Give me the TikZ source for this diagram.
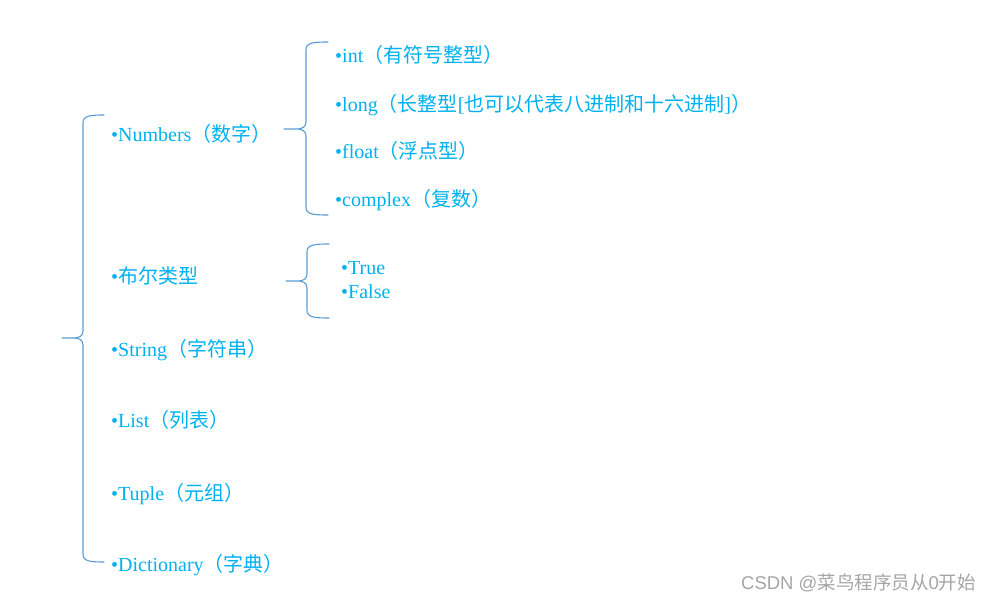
\documentclass[tikz,border=0pt]{standalone}
\usepackage{fontspec}
\setmainfont{Liberation Serif}
\newfontfamily\cjk{Noto Sans CJK SC}
\newfontfamily\marksans{Liberation Sans}
\definecolor{itemblue}{RGB}{0,176,240}
\definecolor{braceblue}{RGB}{91,155,213}
\definecolor{markgray}{RGB}{165,165,165}
% #1 x of the stem, #2 top, #3 tip y, #4 bottom, #5 tip x, #6 tail x
\newcommand{\leftbrace}[6]{%
  \draw[braceline] (#6,#2) .. controls (#1+6,#2) and (#1,#2+1) .. (#1,#2+8)
    -- (#1,#3-7) .. controls (#1,#3-2) and (#1-4,#3) .. (#1-9,#3) -- (#5,#3)
    -- (#1-9,#3) .. controls (#1-4,#3) and (#1,#3+2) .. (#1,#3+7)
    -- (#1,#4-8) .. controls (#1,#4-1) and (#1+6,#4) .. (#6,#4);}
\begin{document}
\begin{tikzpicture}[x=1pt, y=-1pt, line join=round, line cap=round,
  item/.style={anchor=base west, inner sep=0pt, text=itemblue, font=\fontsize{20}{24}\selectfont},
  braceline/.style={draw=braceblue, line width=1.1pt}]
\useasboundingbox (0,0) rectangle (991,602);
% main list
\node[item] (numbers) at (111,141) {•Numbers{\cjk （数字）}};
\node[item] (bool)    at (111,283) {•{\cjk 布尔类型}};
\node[item] (string)  at (111,356) {•String{\cjk （字符串）}};
\node[item] (list)    at (111,427) {•List{\cjk （列表）}};
\node[item] (tuple)   at (111,500) {•Tuple{\cjk （元组）}};
\node[item] (dict)    at (111,571) {•Dictionary{\cjk （字典）}};
% numbers
\node[item] (int)     at (335,63)  {•int{\cjk （有符号整型）}};
\node[item] (long)    at (335,111) {•long{\cjk （长整型}[{\cjk 也可以代表八进制和十六进制}]{\cjk ）}};
\node[item] (float)   at (335,158) {•float{\cjk （浮点型）}};
\node[item] (complex) at (335,206) {•complex{\cjk （复数）}};
% booleans
\node[item] (true)    at (341,274) {•True};
\node[item] (false)   at (341,298) {•False};
% braces
\leftbrace{83}{115}{338}{562}{62}{104}
\leftbrace{306}{42}{129}{215}{284}{328}
\leftbrace{307}{244}{281}{318}{286}{329}
\node[anchor=base east, inner sep=0pt, text=markgray, font=\marksans\fontsize{18.5}{22}\selectfont] (mark) at (976,589) {CSDN @{\cjk 菜鸟程序员从}0{\cjk 开始}};
\end{tikzpicture}
\end{document}
